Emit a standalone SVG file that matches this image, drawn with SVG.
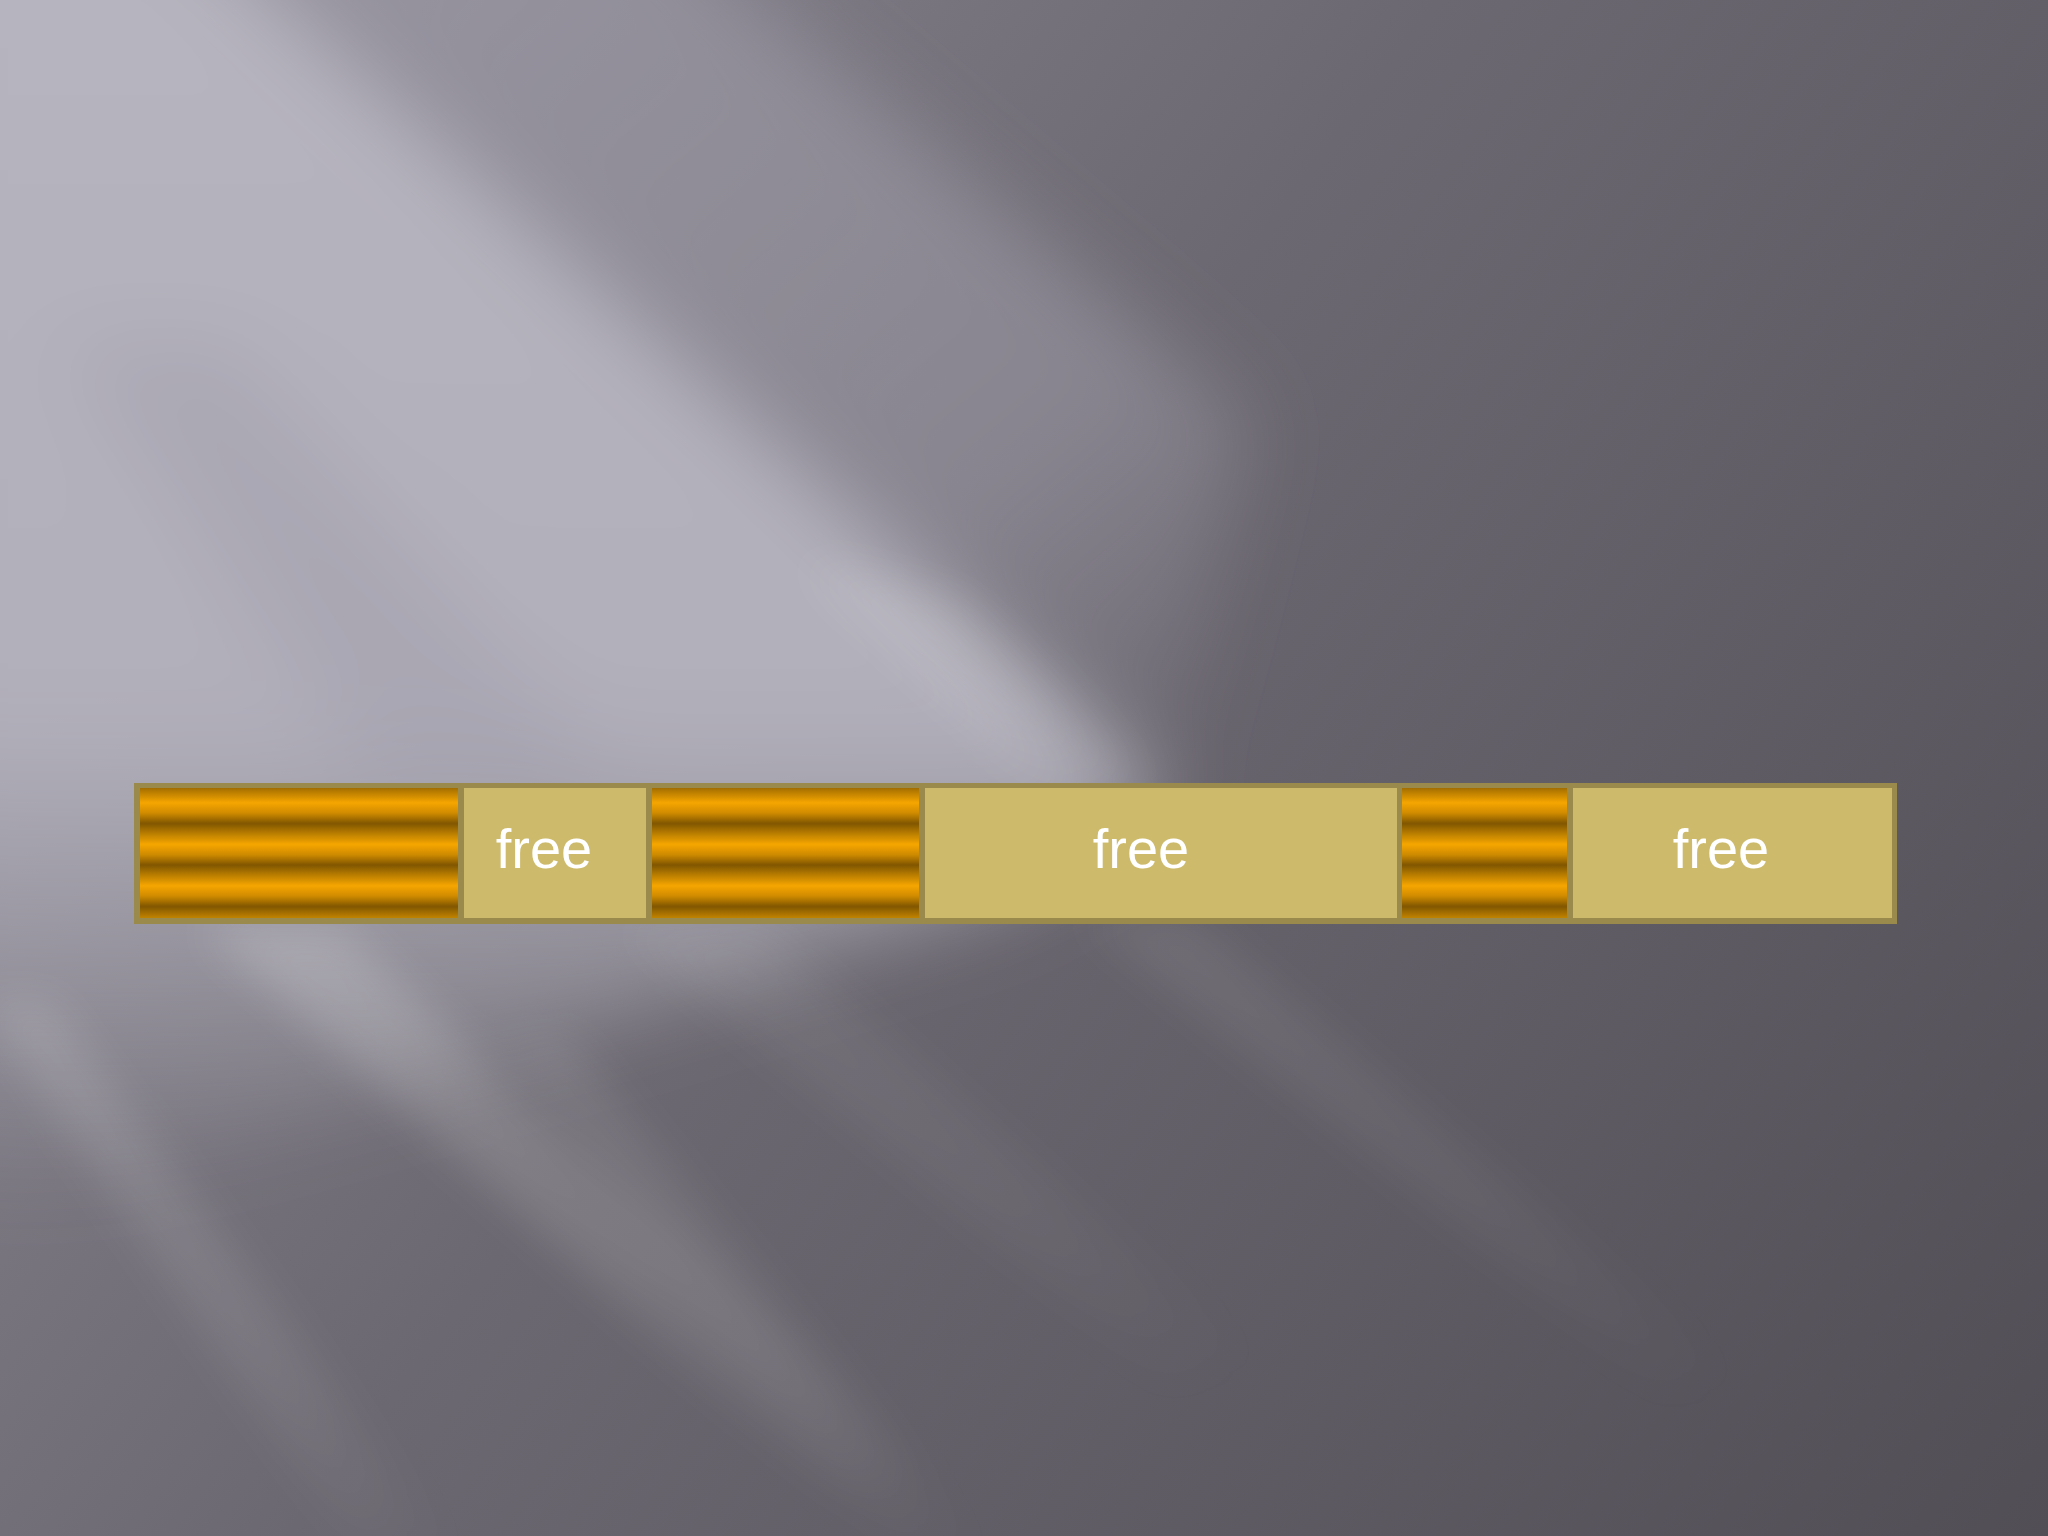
<svg xmlns="http://www.w3.org/2000/svg" width="2048" height="1536" viewBox="0 0 2048 1536">
  <defs>
    <linearGradient id="bg" x1="0" y1="0" x2="2048" y2="1536" gradientUnits="userSpaceOnUse">
      <stop offset="0" stop-color="#8e8b96"/>
      <stop offset="0.45" stop-color="#6c6871"/>
      <stop offset="1" stop-color="#524e56"/>
    </linearGradient>
    <linearGradient id="wedge" x1="0" y1="0" x2="0" y2="1200" gradientUnits="userSpaceOnUse">
      <stop offset="0" stop-color="#b6b4be"/>
      <stop offset="0.6" stop-color="#b1afba"/>
      <stop offset="1" stop-color="#b1afba" stop-opacity="0"/>
    </linearGradient>
    <linearGradient id="mid" x1="0" y1="0" x2="1" y2="1">
      <stop offset="0" stop-color="#9a97a3" stop-opacity="0.8"/>
      <stop offset="0.7" stop-color="#9a97a3" stop-opacity="0.6"/>
      <stop offset="1" stop-color="#9a97a3" stop-opacity="0"/>
    </linearGradient>
    <linearGradient id="fade" x1="0" y1="0" x2="1" y2="1">
      <stop offset="0" stop-color="#ffffff" stop-opacity="1"/>
      <stop offset="0.6" stop-color="#ffffff" stop-opacity="0.6"/>
      <stop offset="1" stop-color="#ffffff" stop-opacity="0"/>
    </linearGradient>
    <filter id="soft" x="-30%" y="-30%" width="160%" height="160%">
      <feGaussianBlur stdDeviation="40"/>
    </filter>
    <filter id="soft2" x="-30%" y="-30%" width="160%" height="160%">
      <feGaussianBlur stdDeviation="22"/>
    </filter>
    <linearGradient id="ridge" x1="0" y1="0" x2="0" y2="1">
      <stop offset="0" stop-color="#805600"/>
      <stop offset="0.22" stop-color="#b47a00"/>
      <stop offset="0.5" stop-color="#f6a600"/>
      <stop offset="0.75" stop-color="#cf8b00"/>
      <stop offset="1" stop-color="#805600"/>
    </linearGradient>
    <pattern id="stripes" patternUnits="userSpaceOnUse" x="0" y="782" width="100" height="41.5">
      <rect x="0" y="0" width="100" height="41.5" fill="url(#ridge)"/>
    </pattern>
    <style>
      .frame { fill: #9a8a4b; }
      .used { fill: url(#stripes); }
      .free { fill: #cdbb6b; }
      .lbl { font-family: "Liberation Sans", Arial, sans-serif; font-size: 56px; fill: #ffffff; text-anchor: middle; }
      .ray { fill: url(#fade); }
    </style>
  </defs>

  <g id="background">
    <rect x="0" y="0" width="2048" height="1536" fill="url(#bg)"/>
    <g filter="url(#soft)">
      <polygon fill="url(#mid)" points="160,-100 640,-100 1250,420 1170,800"/>
      <polygon fill="url(#wedge)" points="-100,-100 160,-100 1170,800 1000,900 -100,1250"/>
      <polygon fill="#9c99a5" opacity="0.35" points="60,340 230,340 620,790 380,790"/>
    </g>
    <g filter="url(#soft2)">
      <polygon class="ray" opacity="0.16" points="800,560 960,600 1170,790 1050,800"/>
      <polygon class="ray" opacity="0.2" points="200,925 340,925 920,1470 840,1500"/>
      <polygon class="ray" opacity="0.14" points="-20,1000 50,1000 460,1560 360,1560"/>
      <polygon class="ray" opacity="0.1" points="500,1040 570,1040 990,1560 900,1560"/>
      <polygon class="ray" opacity="0.08" points="1080,915 1190,915 1740,1380 1670,1400"/>
      <polygon class="ray" opacity="0.07" points="620,925 760,925 1260,1360 1170,1390"/>
    </g>
  </g>

  <g id="memory-bar">
    <rect class="frame" x="134" y="783" width="1763" height="141"/>
  </g>
  <g id="block-used-1">
    <rect class="used" x="140" y="788" width="318" height="130"/>
  </g>
  <g id="block-free-1">
    <rect class="free" x="464" y="788" width="182" height="130"/>
    <text class="lbl" x="544" y="868">free</text>
  </g>
  <g id="block-used-2">
    <rect class="used" x="652" y="788" width="267" height="130"/>
  </g>
  <g id="block-free-2">
    <rect class="free" x="925" y="788" width="472" height="130"/>
    <text class="lbl" x="1141" y="868">free</text>
  </g>
  <g id="block-used-3">
    <rect class="used" x="1402" y="788" width="165" height="130"/>
  </g>
  <g id="block-free-3">
    <rect class="free" x="1573" y="788" width="319" height="130"/>
    <text class="lbl" x="1721" y="868">free</text>
  </g>
  <g id="connectors"/>
</svg>
